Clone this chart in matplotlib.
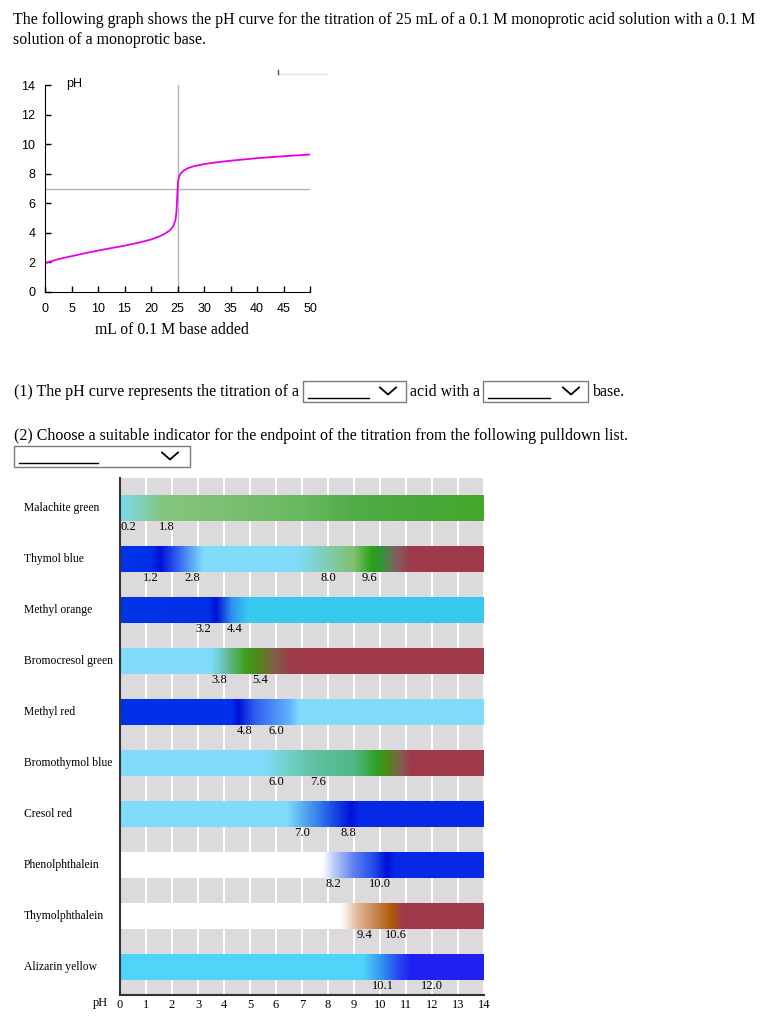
import matplotlib
matplotlib.use("Agg")
import matplotlib.pyplot as plt
from matplotlib.lines import Line2D
from matplotlib.patches import Rectangle
from matplotlib.colors import to_rgb
import numpy as np

W, H = 770, 1024

# titration curve
base_ml = [0, 2.5, 5, 7.5, 10, 12.5, 15, 17.5, 20, 21.5, 22.5, 23.5, 24.2, 24.6,
           24.8, 24.9, 25.0, 25.1, 25.3, 25.6, 26.2, 27, 28, 30, 32.5, 35, 40, 45, 50]
curve_ph = [1.95, 2.22, 2.42, 2.62, 2.8, 2.97, 3.13, 3.32, 3.55, 3.75, 3.92, 4.15, 4.45, 4.85,
            5.4, 6.1, 6.9, 7.45, 7.8, 8.02, 8.22, 8.38, 8.5, 8.65, 8.78, 8.88, 9.05, 9.18, 9.3]
x_ticks = [0, 5, 10, 15, 20, 25, 30, 35, 40, 45, 50]
y_ticks = [0, 2, 4, 6, 8, 10, 12, 14]

# indicators, transition ranges, colour bands
indicators = ["Malachite green", "Thymol blue", "Methyl orange", "Bromocresol green",
              "Methyl red", "Bromothymol blue", "Cresol red", "Phenolphthalein",
              "Thymolphthalein", "Alizarin yellow"]
ranges = [[0.2, 1.8], [1.2, 2.8, 8.0, 9.6], [3.2, 4.4], [3.8, 5.4], [4.8, 6.0],
          [6.0, 7.6], [7.0, 8.8], [8.2, 10.0], [9.4, 10.6], [10.1, 12.0]]
RED = "#9e3a4a"
bands = [
    [(0, "#7cdaf0"), (1.6, "#84c67e"), (4, "#7cc072"), (7, "#68b860"), (9, "#52ac48"),
     (11.5, "#48a83a"), (14, "#42a82a")],
    [(0, "#0034e8"), (1.2, "#0030e6"), (1.55, "#0010d8"), (2.2, "#3060f0"), (3.2, "#80dcfa"),
     (6.8, "#80dcfa"), (8.0, "#80cdb0"), (9.0, "#80c070"), (9.7, "#28a018"), (10.1, "#389040"),
     (10.6, "#806060"), (11.2, RED), (14, RED)],
    [(0, "#0034e8"), (3.4, "#0030e6"), (3.7, "#0010d8"), (4.3, "#3090f0"), (4.9, "#38c8f0"),
     (14, "#38c8f0")],
    [(0, "#80dcfa"), (3.5, "#80dcfa"), (4.2, "#60b890"), (4.8, "#40a020"), (5.3, "#508818"),
     (5.9, "#806048"), (6.6, RED), (14, RED)],
    [(0, "#0030e8"), (4.3, "#0030e8"), (4.55, "#0010d8"), (5.2, "#3060f0"), (6.5, "#60b0ff"),
     (6.9, "#80dcfa"), (14, "#80dcfa")],
    [(0, "#80dcfa"), (5.6, "#80dcfa"), (6.5, "#70d0c8"), (7.5, "#60c0a0"), (9.0, "#50b888"),
     (9.9, "#30a020"), (10.3, "#508818"), (10.8, "#806050"), (11.2, RED), (14, RED)],
    [(0, "#80dcfa"), (6.4, "#80dcfa"), (7.2, "#50a0f0"), (8.0, "#2060e8"), (8.9, "#0010d8"),
     (9.2, "#0828e8"), (14, "#0828e8")],
    [(0, "#ffffff"), (7.8, "#ffffff"), (8.2, "#c0d0fa"), (9.0, "#6080f0"), (9.8, "#2048e8"),
     (10.25, "#0010d8"), (10.6, "#0828e8"), (14, "#0828e8")],
    [(0, "#ffffff"), (8.5, "#ffffff"), (9.2, "#e0b090"), (10.0, "#c07840"), (10.45, "#b05808"),
     (10.9, RED), (14, RED)],
    [(0, "#50d4fa"), (9.35, "#50d4fa"), (10.1, "#3090f0"), (10.7, "#2848f0"), (11.2, "#2020f0"),
     (14, "#2020f0")],
]
ph_scale = list(range(15))

SERIF = ["Liberation Serif", "DejaVu Serif"]
SANS = ["Liberation Sans", "DejaVu Sans"]


def fx(x):
    return x / W


def fy(y):
    return 1 - y / H


fig = plt.figure(figsize=(7.7, 10.24), dpi=100)

# heading
fig.text(fx(13), fy(20), "The following graph shows the pH curve for the titration of 25 mL of a 0.1 M "
         "monoprotic acid solution with a 0.1 M", family=SERIF, fontsize=11.45, va="center")
fig.text(fx(13), fy(40), "solution of a monoprotic base.", family=SERIF, fontsize=11.45, va="center")

# ---- pH curve ----
ax = fig.add_axes([fx(45), fy(292), fx(265), 207 / H])
ax.plot(base_ml, curve_ph, color="#e600e6", lw=1.3)
ax.axhline(7, color="#b4b4b4", lw=1, zorder=0)
ax.axvline(25, color="#b4b4b4", lw=1, zorder=0)
ax.set_xlim(0, 50)
ax.set_ylim(0, 14)
ax.set_xticks(x_ticks)
ax.set_yticks(y_ticks)
ax.tick_params(direction="in", length=4, width=1, labelsize=9, pad=7)
ax.tick_params(axis="x", pad=8)
for lab in ax.get_xticklabels() + ax.get_yticklabels():
    lab.set_family(SANS)
for s in ["top", "right"]:
    ax.spines[s].set_visible(False)
ax.text(4, 14.1, "pH", family=SANS, fontsize=9, va="center")
fig.text(fx(172), fy(330), "mL of 0.1 M base added", family=SERIF, fontsize=11.3, ha="center", va="center")

# stray mark top right
fig.add_artist(Line2D([fx(278), fx(327)], [fy(74), fy(74)], color="#dde6ee", lw=1))
fig.add_artist(Line2D([fx(278), fx(278)], [fy(70), fy(74)], color="#555555", lw=1))

# ---- questions ----
fig.text(fx(14), fy(392), "(1) The pH curve represents the titration of a", family=SERIF,
         fontsize=11.5, va="center")
fig.text(fx(410), fy(392), "acid with a", family=SERIF, fontsize=11.5, va="center")
fig.text(fx(593), fy(392), "base.", family=SERIF, fontsize=11.5, va="center")
fig.text(fx(14), fy(436), "(2) Choose a suitable indicator for the endpoint of the titration from the "
         "following pulldown list.", family=SERIF, fontsize=11.5, va="center")


def dropdown(x0, x1, y0, y1, ux1, cx):
    fig.add_artist(Rectangle((fx(x0), fy(y1)), fx(x1 - x0), (y1 - y0) / H, fill=False,
                             ec="#7a7a7a", lw=1))
    fig.add_artist(Line2D([fx(x0 + 5), fx(ux1)], [fy(y1 - 4), fy(y1 - 4)], color="black", lw=1))
    fig.add_artist(Line2D([fx(cx - 8), fx(cx), fx(cx + 8)],
                          [fy((y0 + y1) / 2 - 4), fy((y0 + y1) / 2 + 3), fy((y0 + y1) / 2 - 4)],
                          color="black", lw=1.3))


dropdown(303, 406, 381, 402, 369, 388)
dropdown(483, 588, 381, 402, 550, 571)
dropdown(14, 190, 446, 467, 98, 170)

# ---- indicator chart ----
ax2 = fig.add_axes([fx(120), fy(995), fx(364), 517 / H])
ax2.set_facecolor("#dcdadc")
ax2.set_xlim(0, 14)
ax2.set_ylim(517 / 51, 0)
for v in ph_scale[1:]:
    ax2.axvline(v, color="white", lw=1.5, zorder=1)

xs = np.linspace(0, 14, 1400)
for i, (name, stops, rng) in enumerate(zip(indicators, bands, ranges)):
    pos = [p for p, c in stops]
    rgb = np.array([to_rgb(c) for p, c in stops])
    img = np.stack([np.interp(xs, pos, rgb[:, k]) for k in range(3)], axis=-1)[None, :, :]
    top, bot = i + 17 / 51, i + 43 / 51
    ax2.imshow(img, extent=[0, 14, bot, top], aspect="auto", zorder=2, interpolation="bilinear")
    for v in rng:
        if v < 0.5:
            ax2.text(v - 0.17, i + 0.96, f"{v:.1f}", family=SERIF, fontsize=9, ha="left", va="center")
        else:
            ax2.text(v, i + 0.96, f"{v:.1f}", family=SERIF, fontsize=9, ha="center", va="center")
    fig.text(fx(24), fy(478 + 51 * (i + 30 / 51)), name, family=SERIF, fontsize=8.4, va="center")

ax2.set_xlim(0, 14)
ax2.set_ylim(517 / 51, 0)
ax2.set_xticks(ph_scale)
ax2.set_xticklabels([str(v) for v in ph_scale], family=SERIF, fontsize=9)
ax2.tick_params(axis="x", length=0, pad=3)
ax2.set_yticks([])
for s in ["top", "right"]:
    ax2.spines[s].set_visible(False)
for s in ["left", "bottom"]:
    ax2.spines[s].set_color("#333333")
    ax2.spines[s].set_linewidth(1.5)
fig.text(fx(100), fy(1003), "pH", family=SERIF, fontsize=9, ha="center", va="center")

fig.savefig("out.png", dpi=100)
